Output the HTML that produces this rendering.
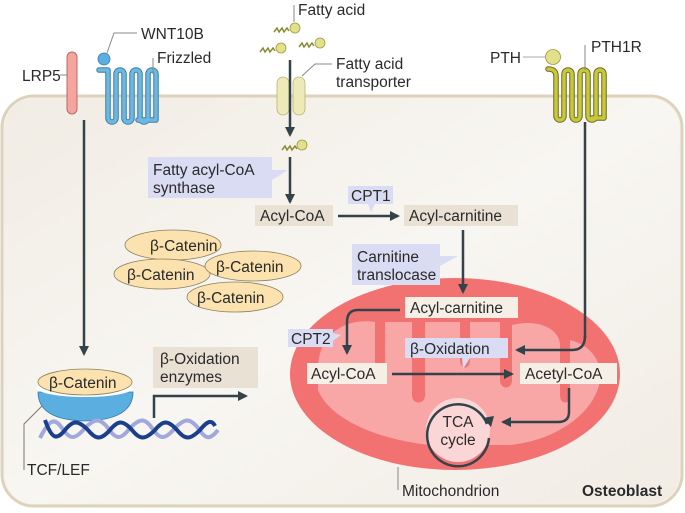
<!DOCTYPE html>
<html><head><meta charset="utf-8"><style>
body{margin:0;background:#fff}
svg{display:block}
text{font-family:"Liberation Sans",sans-serif;fill:#2a2a2a;font-size:15.5px}
</style></head><body>
<svg width="685" height="513" viewBox="0 0 685 513" xmlns="http://www.w3.org/2000/svg">
<defs>
<linearGradient id="cg" x1="0" y1="0" x2="1" y2="1"><stop offset="0" stop-color="#f1ece4"/><stop offset="0.5" stop-color="#f8f6f2"/><stop offset="1" stop-color="#f1ece4"/></linearGradient>
<marker id="ah" viewBox="0 0 10 10" refX="8" refY="5" markerWidth="4" markerHeight="4" orient="auto"><path d="M0,0 L10,5 L0,10 z" fill="#34434a"/></marker>
</defs>
<rect x="0" y="0" width="685" height="513" fill="#fff"/>
<rect x="2" y="96" width="680" height="410" rx="32" fill="url(#cg)" stroke="#ddd2bc" stroke-width="3"/>
<rect x="4" y="98" width="676" height="406" rx="30" fill="none" stroke="#f7f2e6" stroke-width="1"/>

<!-- LRP5 -->
<rect x="67" y="52" width="10" height="62" rx="5" fill="#f5a4a0" stroke="#b86a66" stroke-width="1"/>
<line x1="60" y1="75" x2="67" y2="75" stroke="#888" stroke-width="1"/>
<text x="22" y="81">LRP5</text>
<!-- WNT10B -->
<circle cx="104" cy="59" r="6" fill="#5aaee0" stroke="#3a7aa8" stroke-width="0.8"/>
<polyline points="107,53 114,33 137,33" fill="none" stroke="#888" stroke-width="1"/>
<text x="141" y="39">WNT10B</text>
<!-- Frizzled -->
<path d="M99,70 H108 V118 A4,4 0 0 0 116,118 V74 A4,4 0 0 1 124,74 V118 A4,4 0 0 0 132,118 V74 A4,4 0 0 1 140,74 V118 A4,4 0 0 0 148,118 V74 A4,4 0 0 1 156,74 V120 H138" fill="none" stroke="#3d7fa6" stroke-width="5.5" stroke-linecap="round" stroke-linejoin="round"/>
<path d="M99,70 H108 V118 A4,4 0 0 0 116,118 V74 A4,4 0 0 1 124,74 V118 A4,4 0 0 0 132,118 V74 A4,4 0 0 1 140,74 V118 A4,4 0 0 0 148,118 V74 A4,4 0 0 1 156,74 V120 H138" fill="none" stroke="#6cb8e0" stroke-width="3.5" stroke-linecap="round" stroke-linejoin="round"/>
<line x1="153" y1="74" x2="153" y2="58" stroke="#888" stroke-width="1"/>
<text x="157" y="63">Frizzled</text>
<line x1="84" y1="120" x2="84" y2="354" stroke="#34434a" stroke-width="2.5" marker-end="url(#ah)"/>

<!-- Fatty acid -->
<line x1="294" y1="5" x2="294" y2="22" stroke="#888" stroke-width="1"/>
<text x="298" y="15">Fatty acid</text>
<g fill="none" stroke="#8a8a30" stroke-width="1.5">
<path d="M274,32 l3,-4 l2,4 l3,-4 l2,4 l3,-4 l2,3"/>
<path d="M260,52 l3,-4 l2,4 l3,-4 l2,4 l3,-4 l2,3"/>
<path d="M299,47 l3,-4 l2,4 l3,-4 l2,4 l3,-4 l2,3"/>
<path d="M282,150 l3,-4 l2,4 l3,-4 l2,4 l3,-4 l2,3"/>
</g>
<g fill="#e2e08a" stroke="#9a9a40" stroke-width="0.8">
<circle cx="295" cy="28" r="5"/><circle cx="281" cy="48" r="5"/><circle cx="320" cy="43" r="5"/><circle cx="302" cy="145" r="5"/>
</g>
<rect x="277" y="77" width="12" height="38" rx="6" fill="#eeeab8" stroke="#b8b470" stroke-width="0.8"/>
<rect x="293" y="77" width="12" height="38" rx="6" fill="#eeeab8" stroke="#b8b470" stroke-width="0.8"/>
<polyline points="302,76 315,64 332,64" fill="none" stroke="#888" stroke-width="1"/>
<text x="336" y="69">Fatty acid</text>
<text x="336" y="87">transporter</text>
<line x1="290" y1="60" x2="290" y2="135" stroke="#34434a" stroke-width="2.5" marker-end="url(#ah)"/>
<line x1="290" y1="157" x2="290" y2="202" stroke="#34434a" stroke-width="2.5" marker-end="url(#ah)"/>

<!-- Fatty acyl-CoA synthase -->
<path d="M148,157 H272 V170 L288,170 L272,180 V198 H148 Z" fill="#d9dcf2"/>
<text x="153" y="175">Fatty acyl-CoA</text>
<text x="153" y="193">synthase</text>
<rect x="255" y="205" width="78" height="21" fill="#e8e1d4"/>
<text x="260" y="221">Acyl-CoA</text>
<line x1="338" y1="216" x2="398" y2="216" stroke="#34434a" stroke-width="2.5" marker-end="url(#ah)"/>
<path d="M348,186 H393 V204 H375 L371,212 L368,204 H348 Z" fill="#d9dcf2"/>
<text x="351" y="201">CPT1</text>
<rect x="404" y="205" width="114" height="21" fill="#e8e1d4"/>
<text x="409" y="221">Acyl-carnitine</text>

<!-- catenins -->
<g fill="#fbe2ae" stroke="#8a8060" stroke-width="0.8">
<ellipse cx="173" cy="245" rx="48" ry="15"/>
<ellipse cx="162" cy="274" rx="48" ry="15"/>
<ellipse cx="253" cy="266" rx="48" ry="15"/>
<ellipse cx="235" cy="297" rx="48" ry="15"/>
</g>
<g><text x="150" y="251">β-Catenin</text><text x="127" y="280">β-Catenin</text><text x="216" y="272">β-Catenin</text><text x="197" y="303">β-Catenin</text></g>

<!-- mitochondrion -->
<ellipse cx="455" cy="374" rx="165" ry="96" fill="#f27272"/>
<path d="M318,370 C318,330 350,318 375,322 V375 C375,385 385,385 385,375 V322 H412 V395 C412,405 425,405 425,395 V322 H460 V360 C460,370 470,370 470,360 V322 H500 V380 C500,390 512,390 512,380 V325 C540,318 560,330 560,345 V395 C560,405 570,405 570,395 V340 C590,345 602,360 600,380 C596,410 560,440 510,445 H430 C380,440 330,420 318,390 Z" fill="#f8a6a6"/>
<path d="M352,244 H440 V256 L458,256 L440,266 V285 H352 Z" fill="#d9dcf2"/>
<text x="357" y="262">Carnitine</text>
<text x="357" y="280">translocase</text>
<line x1="463" y1="230" x2="463" y2="292" stroke="#34434a" stroke-width="2.5" marker-end="url(#ah)"/>
<rect x="405" y="297" width="113" height="21" fill="#f6efe6"/>
<text x="410" y="313">Acyl-carnitine</text>
<path d="M400,310 H358 Q347,310 347,322 V353" fill="none" stroke="#34434a" stroke-width="2.5" marker-end="url(#ah)"/>
<path d="M288,329 H333 V333 L341,335 L333,341 V347 H288 Z" fill="#d9dcf2"/>
<text x="291" y="344">CPT2</text>
<path d="M405,338 H508 V358 H470 L463,369 L462,358 H405 Z" fill="#d9dcf2"/>
<text x="410" y="354">β-Oxidation</text>
<line x1="585" y1="122" x2="585" y2="338" stroke="#34434a" stroke-width="2.5"/>
<path d="M585,336 Q585,350 572,350 H517" fill="none" stroke="#34434a" stroke-width="2.5" marker-end="url(#ah)"/>
<rect x="307" y="363" width="80" height="21" fill="#f6efe6"/>
<text x="311" y="379">Acyl-CoA</text>
<line x1="392" y1="374" x2="512" y2="374" stroke="#34434a" stroke-width="2.5" marker-end="url(#ah)"/>
<rect x="520" y="363" width="97" height="21" fill="#f6efe6"/>
<text x="525" y="379">Acetyl-CoA</text>
<path d="M569,388 V412 Q569,422 558,422 H503" fill="none" stroke="#34434a" stroke-width="2.5" marker-end="url(#ah)"/>
<circle cx="458" cy="430" r="32" fill="#fad6d6" stroke="none"/>
<path d="M487,424 A31,31 0 1 0 489,438" fill="none" stroke="#34434a" stroke-width="2.5"/>
<path d="M483,418 L491,427 L494,416 Z" fill="#34434a"/>
<text x="458" y="427" text-anchor="middle">TCA</text>
<text x="458" y="445" text-anchor="middle">cycle</text>
<line x1="398" y1="467" x2="398" y2="490" stroke="#888" stroke-width="1"/>
<text x="402" y="496">Mitochondrion</text>
<text x="582" y="496" font-weight="bold">Osteoblast</text>

<!-- PTH -->
<text x="490" y="63">PTH</text>
<line x1="523" y1="57" x2="545" y2="57" stroke="#aaa" stroke-width="1"/>
<circle cx="553" cy="57" r="7.5" fill="#e2e08a" stroke="#9a9a40" stroke-width="0.8"/>
<path d="M548,69 Q556,69 556,76 V116 A4,4 0 0 0 564,116 V74 A4,4 0 0 1 572,74 V116 A4,4 0 0 0 580,116 V74 A4,4 0 0 1 588,74 V116 A4,4 0 0 0 596,116 V74 A4,4 0 0 1 604,74 V118 H592" fill="none" stroke="#6a6a20" stroke-width="5.5" stroke-linecap="round" stroke-linejoin="round"/>
<path d="M548,69 Q556,69 556,76 V116 A4,4 0 0 0 564,116 V74 A4,4 0 0 1 572,74 V116 A4,4 0 0 0 580,116 V74 A4,4 0 0 1 588,74 V116 A4,4 0 0 0 596,116 V74 A4,4 0 0 1 604,74 V118 H592" fill="none" stroke="#c8c83a" stroke-width="3.5" stroke-linecap="round" stroke-linejoin="round"/>
<line x1="585" y1="45" x2="585" y2="70" stroke="#888" stroke-width="1"/>
<text x="591" y="52">PTH1R</text>

<!-- nucleus -->
<path d="M38,392 H133 Q133,420 85,421 Q38,420 38,392 Z" fill="#5aaee0" stroke="#3a7aa8" stroke-width="0.8"/>
<ellipse cx="85" cy="388" rx="48" ry="9" fill="#fff"/>
<ellipse cx="85" cy="382" rx="47" ry="13" fill="#fbe2ae" stroke="#8a8060" stroke-width="0.8"/>
<text x="49" y="388">β-Catenin</text>
<polyline points="42,406 24,424 24,470" fill="none" stroke="#777" stroke-width="1"/>
<text x="27" y="475">TCF/LEF</text>
<g fill="none" stroke-width="4">
<path d="M40,438 C50,418 55,418 62,428 C70,440 75,440 85,428 C95,418 100,418 108,428 C116,440 121,440 130,428 C140,418 145,418 152,428 C160,440 165,440 175,428 C185,418 190,418 198,428 C206,440 210,440 218,430" stroke="#a0a8dc"/>
<path d="M45,420 C52,440 57,440 65,430 C73,420 78,420 88,430 C96,440 101,440 110,430 C118,420 123,420 132,430 C140,440 145,440 155,430 C163,420 168,420 177,430 C185,440 190,440 200,430 C208,420 212,420 215,426" stroke="#1c3f8c"/>
</g>
<rect x="153" y="347" width="105" height="41" fill="#e8e1d4"/>
<text x="160" y="364">β-Oxidation</text>
<text x="160" y="382">enzymes</text>
<polyline points="154,418 154,396 246,396" fill="none" stroke="#34434a" stroke-width="2.5" marker-end="url(#ah)"/>
</svg>
</body></html>
